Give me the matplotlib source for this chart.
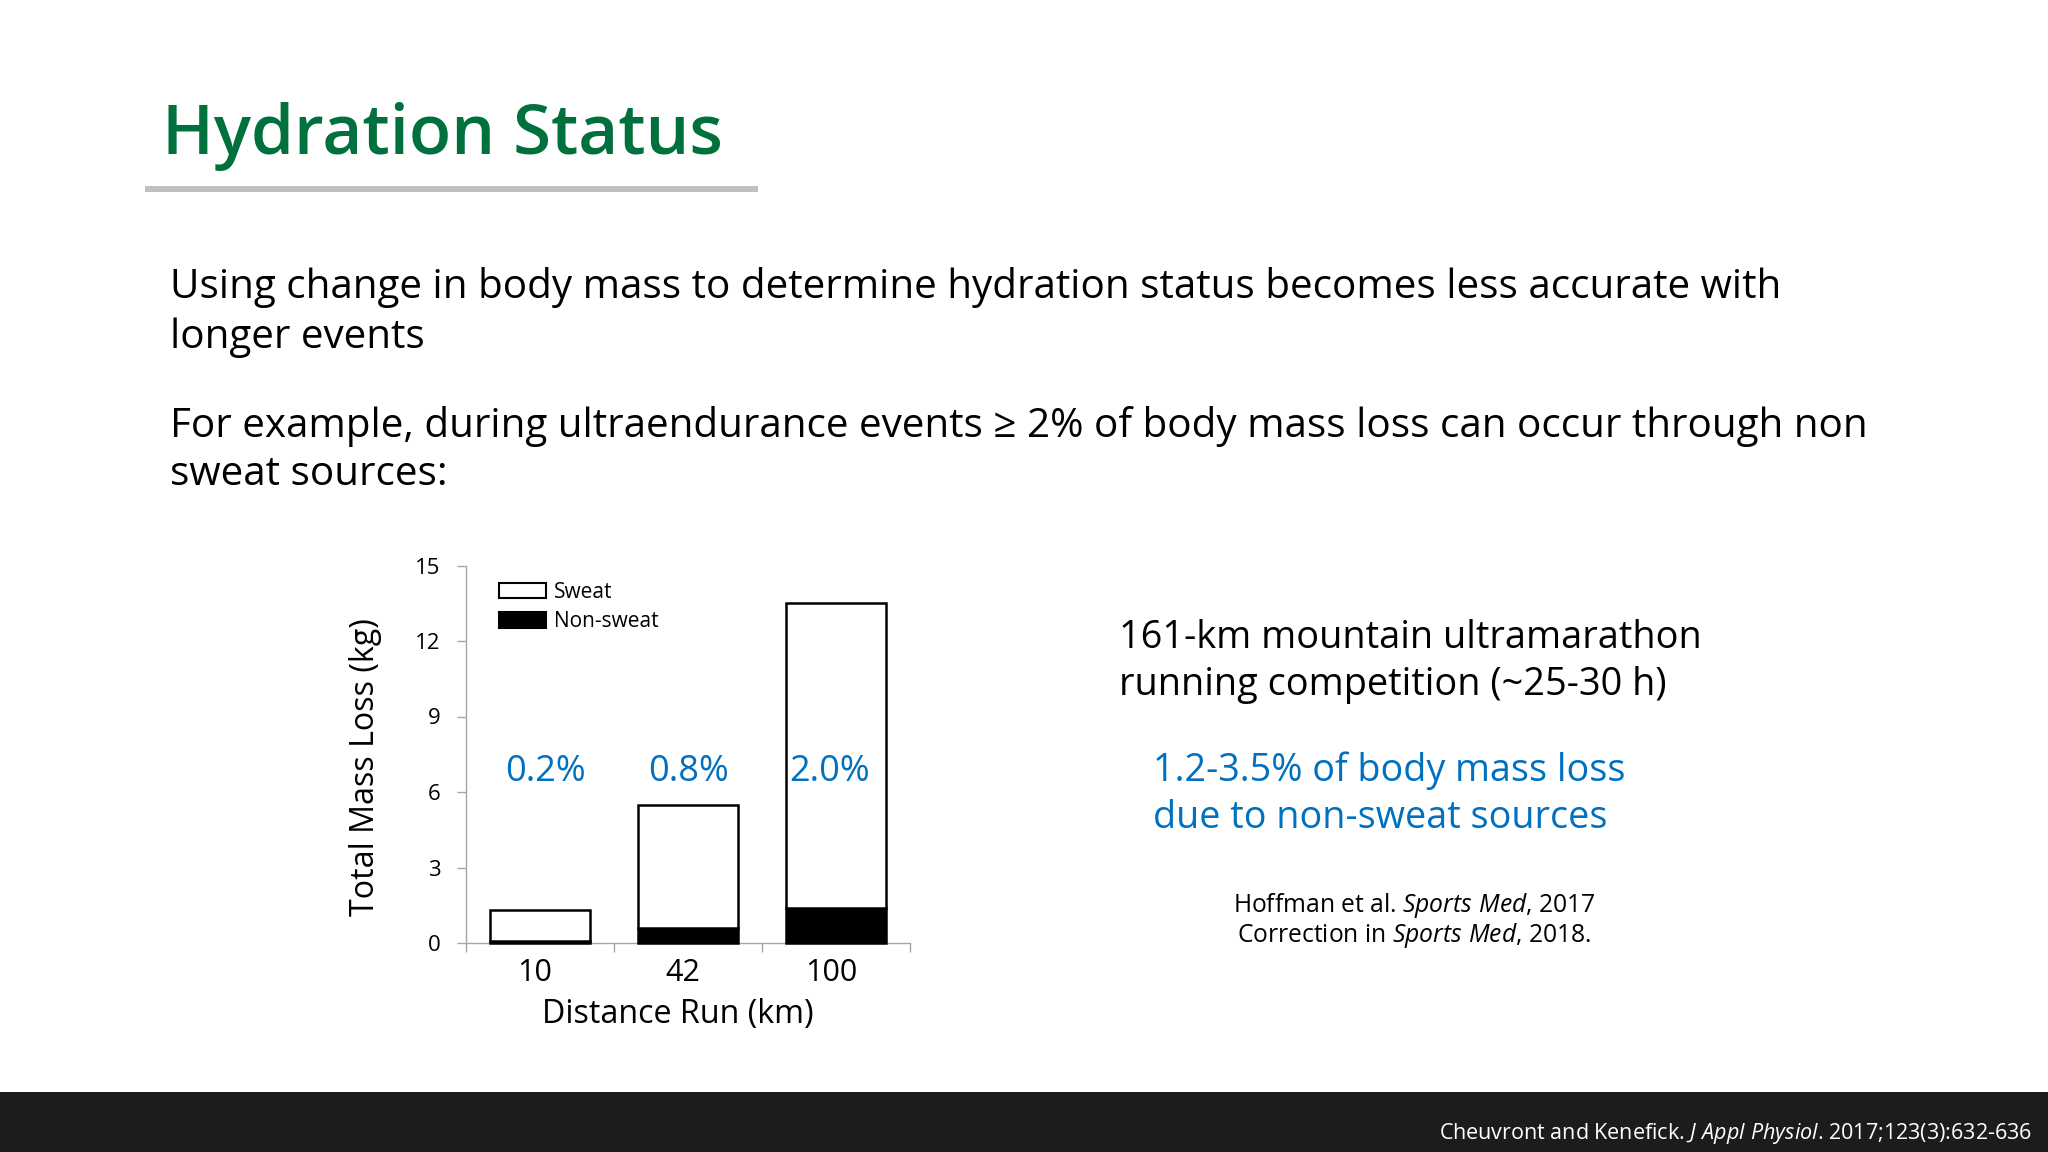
import matplotlib
matplotlib.use('Agg')
import matplotlib.pyplot as plt
import matplotlib.transforms as mtransforms
from matplotlib.patches import Patch, Rectangle
from matplotlib.lines import Line2D

W, H = 2048, 1152
plt.rcParams['font.family'] = ['Open Sans', 'DejaVu Sans']
plt.rcParams['mathtext.fontset'] = 'custom'
plt.rcParams['mathtext.rm'] = 'Open Sans'
plt.rcParams['mathtext.it'] = 'Open Sans:italic'

# ---- data ----
distances = ['10', '42', '100']
non_sweat = [0.07, 0.6, 1.4]
sweat = [1.23, 4.9, 12.1]
pct_labels = ['0.2%', '0.8%', '2.0%']
yticks = [0, 3, 6, 9, 12, 15]

GREEN = '#00703C'
BLUE = '#0070C0'
GRAY = '#A6A6A6'

fig = plt.figure(figsize=(20.48, 11.52), dpi=100)
fig.patch.set_facecolor('white')


def fx(x):
    return x / W


def fy(y):
    return 1 - y / H


def fit(t, target, vertical=False):
    r = fig.canvas.get_renderer()
    bb = t.get_window_extent(r)
    w = bb.height if vertical else bb.width
    t.set_fontsize(t.get_fontsize() * target / w)
    return t.get_fontsize()


# footer band
fig.add_artist(Rectangle((0, 0), 1, (H - 1092) / H, transform=fig.transFigure,
                         facecolor='#1C1C1C', edgecolor='none'))

# title + underline
title = fig.text(fx(162), fy(154), 'Hydration Status', ha='left', va='baseline',
                 fontsize=58, fontweight='semibold', color=GREEN)
fit(title, 560)
fig.add_artist(Line2D([fx(145), fx(758)], [fy(189), fy(189)], transform=fig.transFigure,
                      color='#BFBFBF', lw=4.3, solid_capstyle='butt'))

# body text
b1 = fig.text(fx(170), fy(287), 'Using change in body mass to determine hydration status becomes less accurate with',
              ha='left', va='center', fontsize=26, color='black')
b2 = fig.text(fx(170), fy(338), 'longer events', ha='left', va='center', fontsize=26, color='black')
b3 = fig.text(fx(170), fy(426), 'For example, during ultraendurance events \u2265 2% of body mass loss can occur through non',
              ha='left', va='center', fontsize=26, color='black')
b4 = fig.text(fx(170), fy(475), 'sweat sources:', ha='left', va='center', fontsize=26, color='black')
s1 = fit(b1, 1610)
s3 = fit(b3, 1702)
sb = (s1 + s3) / 2
for t in (b1, b2, b3, b4):
    t.set_fontsize(sb)

# right-hand text
r1 = fig.text(fx(1119), fy(638), '161-km mountain ultramarathon', ha='left', va='center',
              fontsize=26, color='black')
r2 = fig.text(fx(1119), fy(685), 'running competition (~25-30 h)', ha='left', va='center',
              fontsize=26, color='black')
sa = fit(r1, 574)
sb2 = fit(r2, 557)
for t in (r1, r2):
    t.set_fontsize((sa + sb2) / 2)

g1 = fig.text(fx(1153), fy(771), '1.2-3.5% of body mass loss', ha='left', va='center',
              fontsize=26, color=BLUE)
g2 = fig.text(fx(1153), fy(818), 'due to non-sweat sources', ha='left', va='center',
              fontsize=26, color=BLUE)
sa = fit(g1, 476)
sb2 = fit(g2, 452)
for t in (g1, g2):
    t.set_fontsize((sa + sb2) / 2)

c1 = fig.text(fx(1414), fy(905), r'Hoffman et al. $\mathit{Sports\ Med}$, 2017', ha='center', va='center',
              fontsize=17, color='black')
c2 = fig.text(fx(1414), fy(935), r'Correction in $\mathit{Sports\ Med}$, 2018.', ha='center', va='center',
              fontsize=17, color='black')
sa = fit(c1, 363)
sb2 = fit(c2, 355)
for t in (c1, c2):
    t.set_fontsize((sa + sb2) / 2)

ft = fig.text(fx(2032), fy(1134), r'Cheuvront and Kenefick. $\mathit{J\ Appl\ Physiol}$. 2017;123(3):632-636',
              ha='right', va='center', fontsize=16, color='white')
fit(ft, 594)

# ---- chart ----
ax = fig.add_axes([fx(466), fy(943), 444 / W, 377.5 / H])
xpos = list(range(len(distances)))
ax.bar(xpos, non_sweat, width=0.67, color='black', edgecolor='black', lw=1.8, clip_on=False, zorder=3)
ax.bar(xpos, sweat, bottom=non_sweat, width=0.67, color='white', edgecolor='black', lw=1.8,
       clip_on=False, zorder=3)

ax.set_xlim(-0.5, 2.5)
ax.set_ylim(0, 15)
ax.set_yticks(yticks)
ax.set_xticks(xpos, distances)
ax.set_xticks([-0.5, 0.5, 1.5, 2.5], minor=True)
ax.tick_params(axis='x', which='major', length=0, labelsize=22, pad=11)
ax.tick_params(axis='x', which='minor', length=6.5, color=GRAY, width=1)
ax.tick_params(axis='y', length=6.5, color=GRAY, width=1, labelsize=16, pad=12)
for sp in ('top', 'right'):
    ax.spines[sp].set_visible(False)
for sp in ('left', 'bottom'):
    ax.spines[sp].set_color(GRAY)
    ax.spines[sp].set_linewidth(1)

shift = mtransforms.ScaledTranslation(-5 / 100, 0, fig.dpi_scale_trans)
for lbl in ax.get_xticklabels():
    lbl.set_transform(lbl.get_transform() + shift)

pct_nudge = [0.035, 0.005, -0.045]
for i, lab in enumerate(pct_labels):
    ax.text(xpos[i] + pct_nudge[i], 6.8, lab, ha='center', va='center', color=BLUE, fontsize=26, zorder=4)

xl = ax.set_xlabel('Distance Run (km)', fontsize=22, va='center', ha='center')
ax.xaxis.set_label_coords((678 - 466) / 444, (943 - 1014) / 377.5)
yl = ax.set_ylabel('Total Mass Loss (kg)', fontsize=22, va='center', ha='center')
ax.yaxis.set_label_coords((365 - 466) / 444, (943 - 767) / 377.5)

leg = ax.legend(handles=[Patch(facecolor='white', edgecolor='black', lw=1.5),
                         Patch(facecolor='black', edgecolor='black', lw=1.5)],
                labels=['Sweat', 'Non-sweat'], frameon=False, loc='upper left',
                bbox_to_anchor=((499 - 466) / 444, (943 - 582) / 377.5),
                borderpad=0, borderaxespad=0, handlelength=2.25, handleheight=0.75,
                handletextpad=0.4, labelspacing=0.4, fontsize=15)

fit(xl, 272)
fit(yl, 298, vertical=True)

fig.savefig('out.png', dpi=100)
